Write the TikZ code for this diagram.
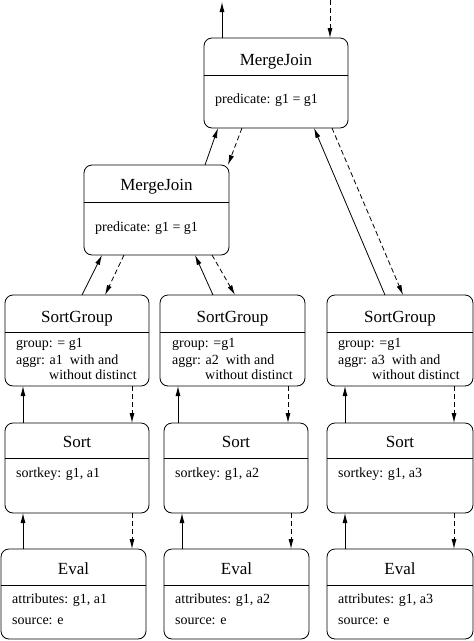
\documentclass[tikz,border=0pt]{standalone}
\usepackage{fontspec}
\setmainfont{Liberation Serif}
\usetikzlibrary{arrows.meta}
\begin{document}
\begin{tikzpicture}[x=1pt,y=-1pt,
  box/.style={draw, line width=0.8pt, rounded corners=8pt, inner sep=0pt, outer sep=0pt},
  ttl/.style={anchor=base, font=\fontsize{17}{20}\selectfont, inner sep=0pt},
  txt/.style={anchor=base west, font=\fontsize{14}{17}\selectfont, inner sep=0pt},
  divl/.style={line width=0.8pt},
  flow/.style={line width=0.8pt, -{Latex[length=10pt,width=5pt]}},
  back/.style={flow, dash pattern=on 5pt off 3pt}]
\useasboundingbox (0,0) rectangle (474,641);
% boxes
\node[box, minimum width=144pt, minimum height=90pt] (mj1) at (276,83) {};
\node[box, minimum width=145pt, minimum height=90pt] (mj2) at (156.5,210) {};
\node[box, minimum width=144pt, minimum height=91pt] (sg1) at (77,340.5) {};
\node[box, minimum width=145pt, minimum height=91pt] (sg2) at (232.5,340.5) {};
\node[box, minimum width=146pt, minimum height=91pt] (sg3) at (400,340.5) {};
\node[box, minimum width=144pt, minimum height=90pt] (s1) at (77,468) {};
\node[box, minimum width=144pt, minimum height=90pt] (s2) at (236,468) {};
\node[box, minimum width=146pt, minimum height=90pt] (s3) at (400,468) {};
\node[box, minimum width=145pt, minimum height=90pt] (e1) at (73.5,594) {};
\node[box, minimum width=145pt, minimum height=90pt] (e2) at (236.5,594) {};
\node[box, minimum width=146pt, minimum height=90pt] (e3) at (400,594) {};
% dividers
\draw[divl] (mj1.west |- 0,75) -- (mj1.east |- 0,75);
\draw[divl] (mj2.west |- 0,202) -- (mj2.east |- 0,202);
\foreach \b in {sg1,sg2,sg3}{\draw[divl] (\b.west |- 0,332) -- (\b.east |- 0,332);}
\foreach \b in {s1,s2,s3}{\draw[divl] (\b.west |- 0,458) -- (\b.east |- 0,458);}
\foreach \b in {e1,e2,e3}{\draw[divl] (\b.west |- 0,585) -- (\b.east |- 0,585);}
% titles
\node[ttl] (mj1t) at (mj1.north |- 0,65) {MergeJoin};
\node[ttl] (mj2t) at (mj2.north |- 0,190) {MergeJoin};
\foreach \b in {sg1,sg2,sg3}{\node[ttl] (\b t) at (\b.north |- 0,322) {SortGroup};}
\foreach \b in {s1,s2,s3}{\node[ttl] (\b t) at (\b.north |- 0,447) {Sort};}
\foreach \b in {e1,e2,e3}{\node[ttl] (\b t) at (\b.north |- 0,574) {Eval};}
% body texts
\node[txt] (mj1p) at (215,103) {predicate: g1 = g1};
\node[txt] (mj2p) at (95,231) {predicate: g1 = g1};
\node[txt] (sg1a) at (16,347) {group: = g1};
\node[txt] (sg1b) at (16,364) {aggr: a1\ \ with and};
\node[txt] (sg1c) at (49,379) {without distinct};
\node[txt] (sg2a) at (172,347) {group: =g1};
\node[txt] (sg2b) at (172,364) {aggr: a2\ \ with and};
\node[txt] (sg2c) at (205,379) {without distinct};
\node[txt] (sg3a) at (338,347) {group: =g1};
\node[txt] (sg3b) at (338,364) {aggr: a3\ \ with and};
\node[txt] (sg3c) at (372,379) {without distinct};
\node[txt] (s1a) at (16,477) {sortkey: g1, a1};
\node[txt] (s2a) at (175,477) {sortkey: g1, a2};
\node[txt] (s3a) at (338,477) {sortkey: g1, a3};
\node[txt] (e1a) at (12,603) {attributes: g1, a1};
\node[txt] (e1b) at (12,624) {source: e};
\node[txt] (e2a) at (175,603) {attributes: g1, a2};
\node[txt] (e2b) at (175,624) {source: e};
\node[txt] (e3a) at (338,603) {attributes: g1, a3};
\node[txt] (e3b) at (338,624) {source: e};
% free ends
\coordinate (outUp) at (222,2);
\coordinate (inDown) at (330,0);
% connectors
\draw[flow] (mj1.north -| outUp) -- (outUp);
\draw[back] (inDown) -- (mj1.north -| inDown);
\draw[flow] (mj2.north -| 205,0) -- (mj1.south -| 218,0);
\draw[back] (mj1.south -| 242,0) -- (mj2.north -| 228,0);
\draw[flow] (sg3.north -| 385,0) -- (mj1.south -| 314,0);
\draw[back] (mj1.south -| 332,0) -- (sg3.north -| 403,0);
\draw[flow] (sg1.north -| 82,0) -- (mj2.south -| 102,0);
\draw[back] (mj2.south -| 124,0) -- (sg1.north -| 105,0);
\draw[flow] (sg2.north -| 213,0) -- (mj2.south -| 195,0);
\draw[back] (mj2.south -| 212,0) -- (sg2.north -| 235,0);
\draw[flow] (s1.north -| 23,0) -- (sg1.south -| 23,0);
\draw[back] (sg1.south -| 132,0) -- (s1.north -| 132,0);
\draw[flow] (e1.north -| 23,0) -- (s1.south -| 23,0);
\draw[back] (s1.south -| 132,0) -- (e1.north -| 132,0);
\draw[flow] (s2.north -| 178,0) -- (sg2.south -| 178,0);
\draw[back] (sg2.south -| 288,0) -- (s2.north -| 288,0);
\draw[flow] (e2.north -| 182,0) -- (s2.south -| 182,0);
\draw[back] (s2.south -| 291,0) -- (e2.north -| 291,0);
\draw[flow] (s3.north -| 345,0) -- (sg3.south -| 345,0);
\draw[back] (sg3.south -| 454,0) -- (s3.north -| 454,0);
\draw[flow] (e3.north -| 345,0) -- (s3.south -| 345,0);
\draw[back] (s3.south -| 454,0) -- (e3.north -| 454,0);
\end{tikzpicture}
\end{document}
